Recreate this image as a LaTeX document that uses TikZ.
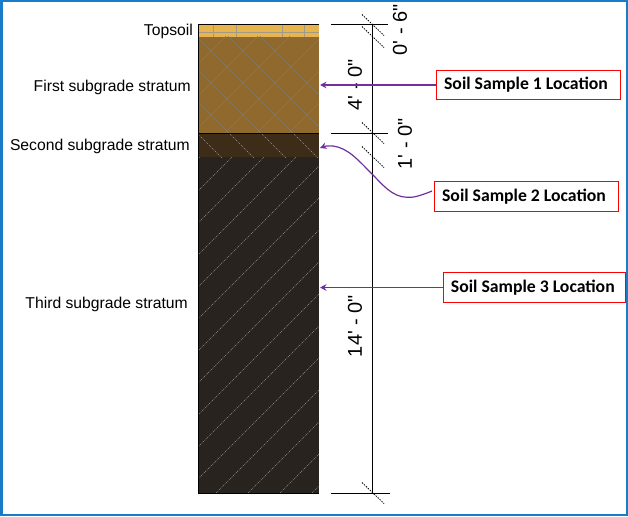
\documentclass[tikz,border=0pt]{standalone}
\usepackage{fontspec}
\usetikzlibrary{arrows.meta}
\newfontfamily\arialf{Liberation Sans}
\newfontfamily\calf{Carlito}[BoldFont={Carlito Bold}]
\definecolor{soilA}{HTML}{E8B44F}
\definecolor{soilB}{HTML}{8F692E}
\definecolor{soilC}{HTML}{3D2C17}
\definecolor{soilD}{HTML}{28231E}
\definecolor{purp}{HTML}{7030A0}
\definecolor{frameblue}{HTML}{1A7CC8}
\definecolor{gridgray}{HTML}{A39A85}
\definecolor{hatchAc}{HTML}{857A63}
\definecolor{hatchBc}{HTML}{A09A90}
\definecolor{hatchCc}{HTML}{908D88}
\tikzset{
  px/.style={x=1pt,y=-1pt},
  stratlabel/.style={anchor=base east,inner sep=0pt,font=\arialf\fontsize{15.7}{18}\selectfont},
  dimlabel/.style={rotate=90,inner sep=0pt,font=\arialf\fontsize{20}{23}\selectfont},
  samplebox/.style={draw=red,line width=1pt,fill=white,inner sep=0pt,minimum height=29.5pt,font=\calf\bfseries\fontsize{17.7}{20}\selectfont},
  dimline/.style={black,line width=1pt},
  tick/.style={black,line width=0.8pt,dash pattern=on 1.5pt off 1.2pt},
  gridline/.style={color=gridgray,line width=0.9pt},
  hatchA/.style={color=hatchAc,line width=0.65pt},
  hatchB/.style={color=hatchBc,line width=0.6pt,dash pattern=on 1pt off 1.2pt},
  hatchC/.style={color=hatchCc,line width=0.6pt,dash pattern=on 1pt off 1pt},
  samplearrow/.style={purp,-{Stealth[length=6.5pt,width=6.5pt]}},
}
\begin{document}
\begin{tikzpicture}[px]
\useasboundingbox (0,0) rectangle (628,516);
\fill[white] (0,0) rectangle (628,516);
\draw[frameblue,line width=2.6pt] (1.2,1.2) rectangle (626.8,514.8);

% strata
\fill[soilA] (198,25) rectangle (319,37);
\fill[soilB] (198,37) rectangle (319,133);
\fill[soilC] (198,133) rectangle (319,157);
\fill[soilD] (198,157) rectangle (319,493);

\begin{scope}
\clip (198,25) rectangle (319,37);
\draw[gridline] (198,32.5) -- (319,32.5);
\foreach \x in {213,236,282,304} \draw[gridline] (\x,25) -- (\x,37);
\end{scope}

\begin{scope}
\clip (198,37) rectangle (319,133);
\foreach \k in {-1,...,6} {
  \pgfmathsetmacro{\c}{\k*32}
  \draw[hatchA] (\c+32,0) -- (\c+332,300);
}
\foreach \k in {0,...,6} {
  \pgfmathsetmacro{\c}{230+\k*32}
  \draw[hatchA] (\c,0) -- (\c-200,200);
}
\end{scope}

\begin{scope}
\clip (198,133) rectangle (319,157);
\foreach \k in {2,...,8} {
  \pgfmathsetmacro{\c}{\k*32}
  \draw[hatchB] (\c,0+64) -- (\c+120,184);
}
\end{scope}

\begin{scope}
\clip (198,157) rectangle (319,493);
\foreach \k in {0,...,22} {
  \pgfmathsetmacro{\c}{357+\k*32}
  \draw[hatchC] (\c-140,140) -- (\c-520,520);
}
\end{scope}

\draw[black,line width=1pt] (319,25) -- (198,25) -- (198,493) -- (319,493);
\draw[black,line width=1pt] (198,133) -- (319,133);

% strata labels
\node[stratlabel] (l1) at (193,35.7) {Topsoil};
\node[stratlabel] (l2) at (191,91.5) {First subgrade stratum};
\node[stratlabel] (l3) at (190,150.5) {Second subgrade stratum};
\node[stratlabel] (l4) at (188,308.5) {Third subgrade stratum};

% dimension string
\coordinate (dT) at (372.5,25);
\coordinate (dB) at (372.5,493);
\draw[dimline] (dT) -- (dB);
\draw[dimline] (331,25) -- (388,25);
\draw[dimline] (331,133) -- (388,133);
\draw[dimline] (331,493) -- (390,493);
\foreach \y in {25,37,133,157,493}
  \draw[tick] (362,\y-10.5) -- (384,\y+10.5);

\node[dimlabel] (d1) at (400,30) {0' - 6"};
\node[dimlabel] (d2) at (355,85) {4' - 0"};
\node[dimlabel] (d3) at (405,144) {1' - 0"};
\node[dimlabel] (d4) at (355,326) {14' - 0"};

% sample callouts
\node[samplebox,minimum width=184pt] (s1) at (528,85) {Soil Sample 1 Location\kern4pt};
\node[samplebox,minimum width=184pt] (s2) at (526,196.5) {Soil Sample 2 Location\kern4pt};
\node[samplebox,minimum width=182.5pt] (s3) at (534.3,287.5) {Soil Sample 3 Location\kern3pt};

\coordinate (t1) at (320,85);
\coordinate (t2) at (320,148);
\coordinate (t3) at (320,287.5);
\coordinate (c2) at (432,191);

\draw[samplearrow,line width=1.8pt] (s1.west) -- (t1);
\draw[samplearrow,line width=1pt] (s3.west) -- (t3);
\draw[samplearrow,line width=1.2pt] (c2) .. controls (420,196) and (412,198) .. (407,197.3)
   .. controls (392,197) and (382,184) .. (372,174)
   .. controls (358,160) and (348,148) .. (333,146)
   .. controls (328,145.5) and (324,146.5) .. (t2);
\end{tikzpicture}
\end{document}
